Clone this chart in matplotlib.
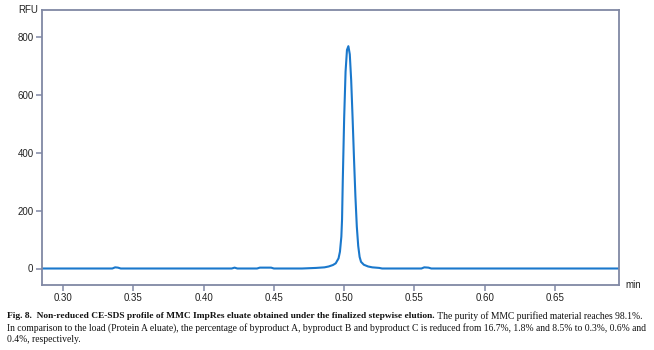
import numpy as np
import matplotlib
matplotlib.use('Agg')
import matplotlib.pyplot as plt

# electropherogram (time in min, signal in RFU)
time_min = [0.2846, 0.335, 0.337, 0.339, 0.341, 0.420, 0.422, 0.424,
            0.438, 0.440, 0.448, 0.450, 0.470, 0.480, 0.486, 0.489,
            0.492, 0.494, 0.496, 0.497, 0.498, 0.4985, 0.499, 0.500,
            0.501, 0.502, 0.503, 0.504, 0.505, 0.506, 0.507, 0.508,
            0.509, 0.510, 0.511, 0.512, 0.514, 0.517, 0.520, 0.525,
            0.527, 0.555, 0.557, 0.560, 0.562, 0.6956]
rfu = [0, 0, 4, 3, 0, 0, 3, 0,
       0, 3, 3, 0, 0, 2, 4, 7,
       12, 18, 35, 58, 110, 170, 300, 520,
       680, 755, 768, 740, 650, 520, 380, 250,
       145, 78, 40, 23, 13, 7, 4, 2,
       0, 0, 4, 3, 0, 0]

xticks = [0.30, 0.35, 0.40, 0.45, 0.50, 0.55, 0.60, 0.65]
yticks = [0, 200, 400, 600, 800]

caption_bold = 'Fig. 8.  Non-reduced CE-SDS profile of MMC ImpRes eluate obtained under the finalized stepwise elution.'
caption_rest = ' The purity of MMC purified material reaches 98.1%.'
caption_line2 = ('In comparison to the load (Protein A eluate), the percentage of byproduct A, byproduct B and byproduct C '
                 'is reduced from 16.7%, 1.8% and 8.5% to 0.3%, 0.6% and')
caption_line3 = '0.4%, respectively.'

spine_col = '#8088a4'
line_col = '#1a78cc'

fig = plt.figure(figsize=(6.54, 3.5), dpi=100)
ax = fig.add_axes([41.5/654, 65/350, (619-41.5)/654, (340-65)/350])

ax.plot(time_min, rfu, color=line_col, lw=1.5, solid_joinstyle='round')
ax.set_xlim(0.2846, 0.6956)
ax.set_ylim(-57, 893)
ax.set_xticks(xticks)
ax.set_xticklabels(['{:.2f}'.format(v) for v in xticks])
ax.set_yticks(yticks)

for sp in ax.spines.values():
    sp.set_color(spine_col)
    sp.set_linewidth(1.3)
ax.tick_params(direction='out', length=4.3, width=1.1, color=spine_col,
               labelsize=7, labelcolor='#222222', pad=1.5)
for lab in ax.get_xticklabels() + ax.get_yticklabels():
    lab.set_family('Liberation Sans')

fig.text(18/654, 1 - 10/350, 'RFU', fontsize=7, family='Liberation Sans',
         color='#222222', va='center', ha='left')
fig.text(625/654, 1 - 285/350, 'min', fontsize=7, family='Liberation Sans',
         color='#222222', va='center', ha='left')

# caption below the plot
cap_size = 6.9
x0 = 7/654
t1 = fig.text(x0, 1 - 316/350, caption_bold, fontsize=6.75, family='Liberation Serif',
              weight='bold', va='center', ha='left', color='#111111')
fig.canvas.draw()
bb = t1.get_window_extent()
fig.text(bb.x1/654, 1 - 316/350, caption_rest, fontsize=cap_size,
         family='Liberation Serif', va='center', ha='left', color='#111111')
fig.text(x0, 1 - 328/350, caption_line2, fontsize=cap_size, family='Liberation Serif',
         va='center', ha='left', color='#111111')
fig.text(x0, 1 - 340/350, caption_line3, fontsize=cap_size, family='Liberation Serif',
         va='center', ha='left', color='#111111')

fig.savefig('out.png', dpi=100)
